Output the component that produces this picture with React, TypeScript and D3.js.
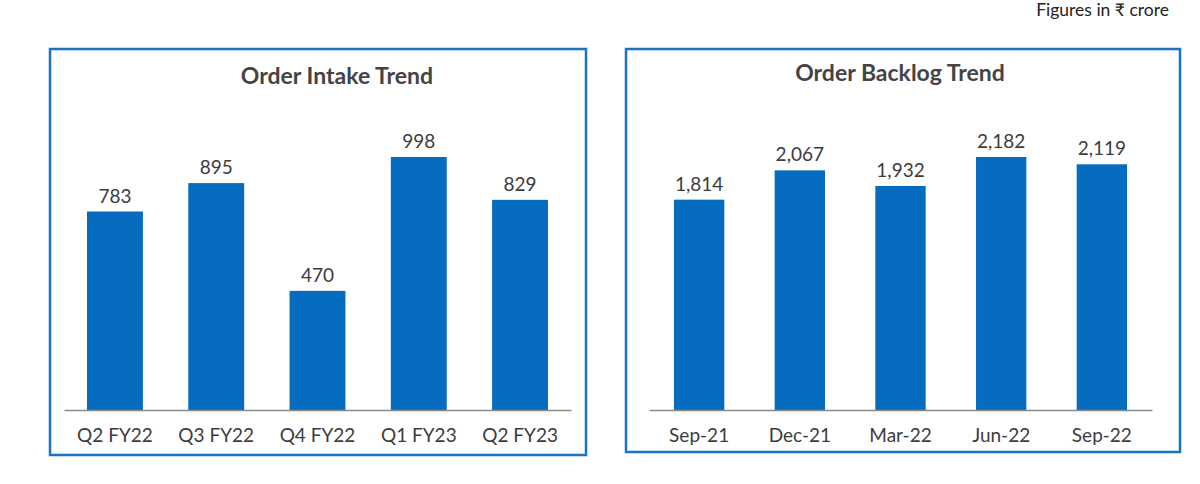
import React, { useEffect, useRef } from 'react';
import * as d3 from 'd3';

// Order intake (₹ crore) per quarter
const intakeQuarters = ['Q2 FY22', 'Q3 FY22', 'Q4 FY22', 'Q1 FY23', 'Q2 FY23'];
const intakeValues = [783, 895, 470, 998, 829];

// Order backlog (₹ crore) at period end
const backlogMonths = ['Sep-21', 'Dec-21', 'Mar-22', 'Jun-22', 'Sep-22'];
const backlogValues = [1814, 2067, 1932, 2182, 2119];

const BAR = '#066cbf';
const BORDER = '#1b72c2';
const TEXT = '#3c3c3c';
const FONT = 'Lato, "Open Sans", sans-serif';

interface PanelSpec {
  title: string;
  titleX: number;
  titleY: number;
  box: { x0: number; y0: number; x1: number; y1: number };
  xRange: [number, number];
  padInner: number;
  padOuter: number;
  cats: string[];
  vals: number[];
  fmt: (v: number) => string;
}

const App: React.FC = () => {
  const ref = useRef<SVGSVGElement | null>(null);

  useEffect(() => {
    const svg = d3.select(ref.current);
    svg.selectAll('*').remove();
    const baseline = 410;
    const top = 157;

    const panels: PanelSpec[] = [
      {
        title: 'Order Intake Trend',
        titleX: 337,
        titleY: 84,
        box: { x0: 50, y0: 49, x1: 586, y1: 455 },
        xRange: [64, 571],
        padInner: 0.448,
        padOuter: 0.227,
        cats: intakeQuarters,
        vals: intakeValues,
        fmt: d3.format('d'),
      },
      {
        title: 'Order Backlog Trend',
        titleX: 900,
        titleY: 81,
        box: { x0: 626, y0: 49, x1: 1180, y1: 452 },
        xRange: [649, 1152],
        padInner: 0.5,
        padOuter: 0.248,
        cats: backlogMonths,
        vals: backlogValues,
        fmt: d3.format(','),
      },
    ];

    panels.forEach(p => {
      const g = svg.append('g');

      // panel frame
      g.append('rect')
        .attr('x', p.box.x0)
        .attr('y', p.box.y0)
        .attr('width', p.box.x1 - p.box.x0)
        .attr('height', p.box.y1 - p.box.y0)
        .attr('fill', 'white')
        .attr('stroke', BORDER)
        .attr('stroke-width', 2.5);

      g.append('text')
        .attr('x', p.titleX)
        .attr('y', p.titleY)
        .attr('text-anchor', 'middle')
        .attr('font-family', FONT)
        .attr('font-weight', 700)
        .attr('font-size', 23)
        .attr('fill', '#444')
        .text(p.title);

      const x = d3.scaleBand<string>()
        .domain(p.cats)
        .range(p.xRange)
        .paddingInner(p.padInner)
        .paddingOuter(p.padOuter);

      const y = d3.scaleLinear()
        .domain([0, d3.max(p.vals) as number])
        .range([baseline, top]);

      g.selectAll('rect.bar')
        .data(p.vals)
        .join('rect')
        .attr('class', 'bar')
        .attr('x', (_, i) => x(p.cats[i]) as number)
        .attr('y', d => y(d))
        .attr('width', x.bandwidth())
        .attr('height', d => baseline - y(d))
        .attr('fill', BAR);

      g.selectAll('text.val')
        .data(p.vals)
        .join('text')
        .attr('class', 'val')
        .attr('x', (_, i) => (x(p.cats[i]) as number) + x.bandwidth() / 2)
        .attr('y', d => y(d) - 9)
        .attr('text-anchor', 'middle')
        .attr('font-family', FONT)
        .attr('font-size', 19)
        .attr('fill', TEXT)
        .text(d => p.fmt(d));

      const axis = g.append('g')
        .attr('transform', `translate(0,${baseline})`)
        .call(d3.axisBottom(x).tickSize(0).tickSizeOuter(0).tickPadding(18.5));
      axis.select('.domain').attr('stroke', '#8a8a8a').attr('stroke-width', 1.5);
      axis.selectAll('text')
        .attr('font-family', FONT)
        .attr('font-size', 19)
        .attr('fill', TEXT);
    });

    svg.append('text')
      .attr('x', 1169)
      .attr('y', 16)
      .attr('text-anchor', 'end')
      .attr('font-family', FONT)
      .attr('font-size', 17.5)
      .attr('fill', '#222')
      .text('Figures in ₹ crore');
  }, []);

  return (
    <svg
      ref={ref}
      width={1200}
      height={484}
      style={{ position: 'absolute', left: 0, top: 0, background: 'white' }}
    />
  );
};

export default App;
